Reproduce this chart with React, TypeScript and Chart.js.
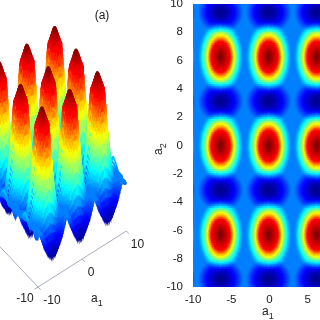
import React, { useEffect, useRef } from "react";
import { Chart, registerables } from "chart.js";

Chart.register(...registerables);

// Radial profiles, one sample per 0.05 of elliptical distance from a cell centre.
const peakProfile = [1, 0.999, 0.997, 0.993, 0.988, 0.982, 0.975, 0.968, 0.96, 0.952, 0.944, 0.935, 0.928, 0.92, 0.912, 0.905, 0.897, 0.89, 0.882, 0.875, 0.868, 0.86, 0.853, 0.845, 0.84, 0.83, 0.8, 0.765, 0.73, 0.695, 0.66, 0.625, 0.59, 0.56, 0.53, 0.5, 0.47, 0.44, 0.41, 0.385, 0.36, 0.33, 0.305, 0.28, 0.255, 0.23, 0.21, 0.19, 0.17, 0.15, 0.13, 0.11, 0.09, 0.075, 0.06, 0.045, 0.03, 0.02, 0.01, 0.005, 0];
const troughProfile = [-0.31, -0.31, -0.31, -0.309, -0.308, -0.306, -0.305, -0.303, -0.3, -0.298, -0.295, -0.293, -0.29, -0.288, -0.285, -0.28, -0.275, -0.27, -0.265, -0.26, -0.255, -0.25, -0.245, -0.24, -0.235, -0.23, -0.225, -0.22, -0.215, -0.21, -0.205, -0.2, -0.195, -0.188, -0.18, -0.175, -0.17, -0.165, -0.16, -0.153, -0.145, -0.138, -0.13, -0.123, -0.115, -0.108, -0.1, -0.093, -0.085, -0.078, -0.07, -0.063, -0.055, -0.048, -0.04, -0.033, -0.025, -0.018, -0.01, -0.005, 0];
const plateau = 0.25;
const relief = 0.75;
const peakStretch = 1.13;
const troughStretch = 2;
const gridIndices = Array.from({ length: 153 }, (_, i) => i - 76);
const GRID_STEP = Math.PI / 24;

const mapXTicks = [-10, -5, 0, 5, 10];
const mapYTicks = [-10, -8, -6, -4, -2, 0, 2, 4, 6, 8, 10];
const axisA1Ticks = [-10, 0, 10];
const axisA1LabelShift = [14, 9, 11];
const axisA2Ticks = [-10];

const FONT = '"Liberation Sans", Arial, sans-serif';
const TEXT = "#222";

const fold = (n: number) => {
  let i = Math.abs(n) % 48;
  if (i > 24) i = 48 - i;
  return i * GRID_STEP;
};
const sample = (profile: number[], r: number) => profile[Math.round(r * 20)] ?? 0;
const level = (k: number, j: number) => {
  const dx = fold(k);
  const peak = sample(peakProfile, Math.hypot(dx, peakStretch * fold(j)));
  const trough = sample(troughProfile, Math.hypot(dx, troughStretch * fold(j + 24)));
  return plateau + relief * (peak + trough);
};

const jet = (v: number) => {
  const t = Math.max(0, Math.min(1, v));
  const c = (x: number) => Math.round(255 * Math.max(0, Math.min(1, 1.5 - Math.abs(4 * t - x))));
  return `rgb(${c(3)},${c(2)},${c(1)})`;
};

// 3-D view of the surface, expressed in the left chart's plot units.
const view = { ox: 48.2, oy: 223, ux: 4.42, uy: 2.8, vx: -3.4, vy: 3.6, lift: 16, gain: 140 };
const project = (a1: number, a2: number, z: number) => ({
  x: view.ox + a1 * view.ux + a2 * view.vx,
  y: view.oy - a1 * view.uy - a2 * view.vy - z,
});
const surfaceZ = (v: number) => view.lift + view.gain * v;

const AXIS = "#a9adbd";

function subLabel(c: CanvasRenderingContext2D, x: number, y: number, main: string, sub: string) {
  c.font = `12px ${FONT}`;
  c.textAlign = "left";
  c.textBaseline = "alphabetic";
  c.fillText(main, x, y);
  const w = c.measureText(main).width;
  c.font = `9px ${FONT}`;
  c.fillText(sub, x + w, y + 4);
}

export default function App() {
  const leftRef = useRef<HTMLCanvasElement>(null);
  const rightRef = useRef<HTMLCanvasElement>(null);

  useEffect(() => {
    // Left panel: one polyline per a1 column, front column listed first (it is painted last).
    const surfaceSets: any[] = gridIndices.map((k) => {
      const rows = [...gridIndices].reverse();
      const vals = rows.map((j) => level(k, j));
      return {
        data: rows.map((j, i) => project(k * GRID_STEP, j * GRID_STEP, surfaceZ(vals[i]))),
        showLine: true,
        pointRadius: 0,
        borderWidth: 1.6,
        borderCapStyle: "round",
        borderColor: jet(plateau),
        segment: { borderColor: (ctx: any) => jet(vals[ctx.p0DataIndex]) },
      };
    });

    const axisSets: any[] = [
      { data: [project(-10, -10, 0), project(10, -10, 0)] },
      { data: [project(-10, -10, 0), project(-10, 10, 0)] },
      ...axisA1Ticks.map((t) => ({ data: [project(t, -10, 0), project(t, -10.8, 0)] })),
      ...axisA2Ticks.map((t) => ({ data: [project(-10, t, 0), project(-10.8, t, 0)] })),
    ].map((d) => ({ ...d, showLine: true, pointRadius: 0, borderWidth: 1, borderColor: AXIS }));

    const leftLabels = {
      id: "leftLabels",
      afterDraw(chart: any) {
        const c = chart.ctx;
        c.save();
        c.fillStyle = TEXT;
        c.font = `12px ${FONT}`;
        c.textBaseline = "middle";
        c.textAlign = "center";
        c.fillText("(a)", 102, 16);
        const px = (p: { x: number; y: number }) => ({
          x: chart.scales.x.getPixelForValue(p.x),
          y: chart.scales.y.getPixelForValue(p.y),
        });
        axisA1Ticks.forEach((t, i) => {
          const p = px(project(t, -10, 0));
          c.fillText(String(t), p.x + axisA1LabelShift[i], p.y + 13.5);
        });
        axisA2Ticks.forEach((t) => {
          const p = px(project(-10, t, 0));
          c.fillText(String(t), p.x - 13, p.y + 11.5);
        });
        subLabel(c, 91, 302, "a", "1");
        c.restore();
      },
    };

    const left = new Chart(leftRef.current!, {
      type: "scatter",
      data: { datasets: [...surfaceSets, ...axisSets] },
      options: {
        animation: false,
        responsive: false,
        events: [],
        layout: { padding: 0 },
        plugins: { legend: { display: false }, tooltip: { enabled: false } },
        scales: {
          x: { type: "linear", display: false, min: 0, max: 160 },
          y: { type: "linear", display: false, min: 0, max: 320, reverse: true },
        },
      },
      plugins: [leftLabels],
    } as any);

    // Right panel: heat map.
    const cells: { x: number; y: number }[] = [];
    const colours: string[] = [];
    gridIndices.forEach((k) =>
      gridIndices.forEach((j) => {
        cells.push({ x: k * GRID_STEP, y: j * GRID_STEP });
        colours.push(jet(level(k, j)));
      })
    );

    const rightLabels = {
      id: "rightLabels",
      afterDraw(chart: any) {
        const c = chart.ctx;
        c.save();
        c.fillStyle = TEXT;
        subLabel(c, 112, 315, "a", "1");
        c.translate(12, 146);
        c.rotate(-Math.PI / 2);
        subLabel(c, -9, 0, "a", "2");
        c.restore();
      },
    };

    const tickFont = { family: FONT, size: 11.5 };
    const flush = (s: any) => {
      s.paddingLeft = 0;
      s.paddingRight = 0;
      s.paddingTop = 0;
      s.paddingBottom = 0;
    };
    const right = new Chart(rightRef.current!, {
      type: "scatter",
      data: {
        datasets: [
          {
            data: cells,
            pointStyle: "rect",
            pointRadius: 1.9,
            pointBorderWidth: 0,
            pointBackgroundColor: colours,
          },
        ],
      },
      options: {
        animation: false,
        responsive: false,
        events: [],
        layout: { padding: { top: 4, right: 4, left: 0, bottom: 0 } },
        plugins: { legend: { display: false }, tooltip: { enabled: false } },
        scales: {
          x: {
            type: "linear",
            min: -10,
            max: 10,
            afterFit: (s: any) => { s.height = 33; flush(s); },
            afterBuildTicks: (s: any) => { s.ticks = mapXTicks.map((value) => ({ value })); },
            grid: { display: false },
            border: { display: false },
            ticks: { font: tickFont, color: TEXT, maxRotation: 0, autoSkip: false, padding: -2 },
          },
          y: {
            type: "linear",
            min: -10,
            max: 10,
            afterFit: (s: any) => { s.width = 43; flush(s); },
            afterBuildTicks: (s: any) => { s.ticks = mapYTicks.map((value) => ({ value })); },
            grid: { display: false },
            border: { display: false },
            ticks: { font: tickFont, color: TEXT, autoSkip: false, padding: 2 },
          },
        },
      },
      plugins: [rightLabels],
    } as any);

    return () => {
      left.destroy();
      right.destroy();
    };
  }, []);

  return (
    <div style={{ position: "fixed", left: 0, top: 0, width: 320, height: 320, overflow: "hidden", background: "#fff" }}>
      <canvas ref={leftRef} width={160} height={320} style={{ position: "absolute", left: 0, top: 0, display: "block" }} />
      <canvas ref={rightRef} width={200} height={320} style={{ position: "absolute", left: 150, top: 0, display: "block" }} />
    </div>
  );
}
